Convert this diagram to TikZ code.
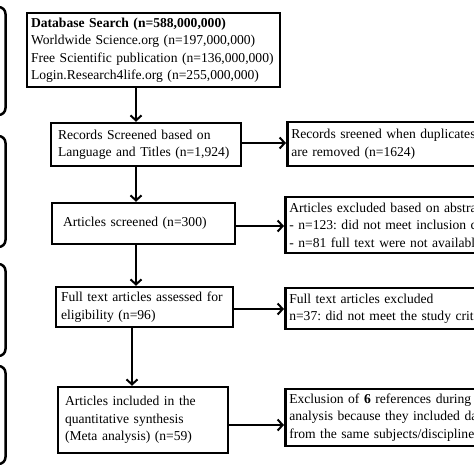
\documentclass[tikz,border=0pt]{standalone}
\usepackage{fontspec}
\setmainfont{Liberation Serif}
\usetikzlibrary{arrows.meta}
\frenchspacing
\hbadness=10000 \hfuzz=200pt
\newcommand{\oneln}[1]{\mbox{#1}}
\begin{document}
\begin{tikzpicture}[x=1pt,y=-1pt,
  box/.style={draw, line width=2.5pt, align=left, inner ysep=2pt,
    font=\fontsize{13.6}{17.5}\selectfont},
  rbox/.style={box, anchor=west, inner xsep=4pt, text width=262pt, minimum width=270pt},
  arr/.style={line width=2pt, -{Straight Barb[length=5pt,width=11pt,line width=2pt]}},
  brk/.style={line width=2.5pt, rounded corners=7pt}]
\useasboundingbox (0,0) rectangle (474,474);
\clip (0,0) rectangle (474,474);
\fill[white] (0,0) rectangle (474,474);
% left brackets
\draw[brk] (-12,7) rectangle (5.5,115);
\draw[brk] (-12,136) rectangle (5.5,247);
\draw[brk] (-12,264) rectangle (5.5,356);
\draw[brk] (-12,366) rectangle (5.5,464);
% main boxes
\node[box, inner xsep=4pt, text width=245pt, minimum width=253pt, minimum height=74pt] (b1) at (153.5,50)
  {\oneln{\textbf{Database Search (n=588,000,000)}}\\\oneln{Worldwide Science.org (n=197,000,000)}\\\oneln{Free Scientific publication (n=136,000,000)}\\\oneln{Login.Research4life.org (n=255,000,000)}};
\node[box, inner xsep=7pt, text width=176pt, minimum width=190pt, minimum height=43pt] (b2) at (146,144.5)
  {\oneln{Records Screened based on}\\\oneln{Language and Titles (n=1,924)}};
\node[box, inner xsep=11pt, text width=161pt, minimum width=183pt, minimum height=41pt] (b3) at (143.5,223.5)
  {\oneln{Articles screened (n=300)}};
\node[box, inner xsep=5pt, text width=167pt, minimum width=177pt, minimum height=40pt] (b4) at (144.5,307)
  {\oneln{Full text articles assessed for}\\\oneln{eligibility (n=96)}};
\node[box, inner xsep=7pt, text width=156pt, minimum width=170pt, minimum height=66pt] (b5) at (143,420)
  {\oneln{Articles included in the}\\\oneln{quantitative synthesis}\\\oneln{(Meta analysis) (n=59)}};
% right boxes
\node[rbox, minimum height=44pt] (r1) at (286,144)
  {\oneln{Records sreened when duplicates}\\\oneln{are removed (n=1624)}};
\node[rbox, minimum height=56pt] (r2) at (284,225)
  {\oneln{Articles excluded based on abstract}\\\oneln{- n=123: did not meet inclusion criteria}\\\oneln{- n=81 full text were not available}};
\node[rbox, minimum height=41pt] (r3) at (284,308.5)
  {\oneln{Full text articles excluded}\\\oneln{n=37: did not meet the study criteria}};
\node[rbox, minimum height=57pt] (r4) at (284,417.5)
  {\oneln{Exclusion of \textbf{6} references during the}\\\oneln{analysis because they included data}\\\oneln{from the same subjects/disciplines}};
% vertical arrows
\coordinate (va) at (136,0);
\coordinate (vb) at (132,0);
\draw[arr] (b1.south -| va) -- (b2.north -| va);
\draw[arr] (b2.south -| va) -- (b3.north -| va);
\draw[arr] (b3.south -| va) -- (b4.north -| va);
\draw[arr] (b4.south -| vb) -- (b5.north -| vb);
% horizontal arrows
\draw[arr] (b2.east |- 0,143) -- (r1.west |- 0,143);
\draw[arr] (b3.east |- 0,226) -- (r2.west |- 0,226);
\draw[arr] (b4.east |- 0,309) -- (r3.west |- 0,309);
\draw[arr] (b5.east |- 0,425) -- (r4.west |- 0,425);
\end{tikzpicture}
\end{document}
